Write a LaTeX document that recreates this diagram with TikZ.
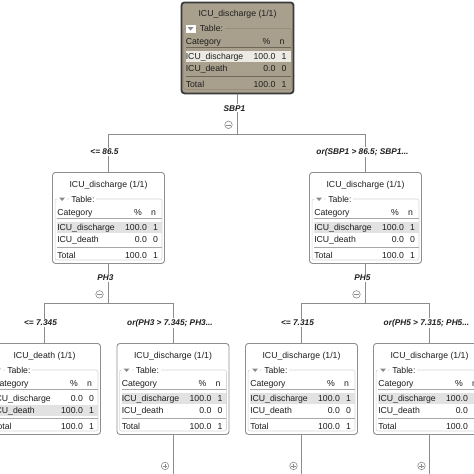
\documentclass[tikz,border=0pt]{standalone}
\usepackage{fontspec}
\setmainfont{Liberation Sans}
\usepackage{xcolor}
\usetikzlibrary{positioning,calc}

\definecolor{txt}{HTML}{1E1E1E}
\definecolor{linkgray}{HTML}{8C8C8C}
\definecolor{toggray}{HTML}{8A8A8A}
\definecolor{rootfill}{HTML}{A89F8C}
\definecolor{roothl}{HTML}{EDEAE4}
\definecolor{rootline}{HTML}{3A3A3A}
\definecolor{rootrule}{HTML}{6E6656}
\definecolor{rootframe}{HTML}{968D7A}
\definecolor{leaffill}{HTML}{FFFFFF}
\definecolor{leafhl}{HTML}{E2E2E2}
\definecolor{leafline}{HTML}{8E8E8E}
\definecolor{leafrule}{HTML}{A8A8A8}
\definecolor{leafframe}{HTML}{D6D6D6}

\begin{document}
\begin{tikzpicture}[x=1pt, y=-1pt,
        % styles for the decision tree
        every node/.style={font=\fontsize{8.7}{10}\selectfont, text=txt, inner sep=0pt},
        tabbox/.style={rounded corners=3pt, minimum width=112pt, minimum height=91pt, anchor=north},
        celltxt/.style={anchor=base west},
        numtxt/.style={anchor=base east},
        icon/.style={fill=white, minimum width=10pt, minimum height=8pt,
          path picture={\fill[toggray] ($(path picture bounding box.center)+(-3,-1.5)$) -- ++(6,0) -- ++(-3,3.5) -- cycle;}},
        link/.style={draw=linkgray, line width=0.9pt},
        varlbl/.style={font=\fontsize{8.3}{10}\selectfont\bfseries\itshape, fill=white, inner sep=1pt},
        brlbl/.style={font=\fontsize{8.3}{10}\selectfont\bfseries\itshape, fill=white, inner sep=1pt},
        toggle/.style={circle, draw=toggray, fill=white, line width=0.6pt, minimum size=7.5pt, inner sep=0pt},
        minus/.style={toggle, path picture={\draw[toggray, line width=0.6pt] ($(path picture bounding box.west)+(1.7,0)$) -- ($(path picture bounding box.east)+(-1.7,0)$);}},
        plus/.style={toggle, path picture={\draw[toggray, line width=0.6pt] ($(path picture bounding box.west)+(1.7,0)$) -- ($(path picture bounding box.east)+(-1.7,0)$);
            \draw[toggray, line width=0.6pt] ($(path picture bounding box.north)+(0,1.7)$) -- ($(path picture bounding box.south)+(0,-1.7)$);}}
      ]

      \useasboundingbox (0,0) rectangle (474,474);

      % Tree nodes with their class tables
      \foreach \nm/\cx/\ty/\kind/\lw/\ttl/\pa/\na/\pb/\nb/\hr in {
          root/237.5/1.5/root/1.8/ICU\_discharge/100.0/1/0.0/0/1,
          sbpLow/108.5/172/leaf/0.9/ICU\_discharge/100.0/1/0.0/0/1,
          sbpHigh/365.5/172/leaf/0.9/ICU\_discharge/100.0/1/0.0/0/1,
          ph3Low/44.5/343/leaf/0.9/ICU\_death/0.0/0/100.0/1/2,
          ph3High/173/343/leaf/0.9/ICU\_discharge/100.0/1/0.0/0/1,
          ph5Low/301.5/343/leaf/0.9/ICU\_discharge/100.0/1/0.0/0/1,
          ph5High/429.5/343/leaf/0.9/ICU\_discharge/100.0/1/0.0/0/1} {
        \node[tabbox, draw=\kind line, fill=\kind fill, line width=\lw pt] (\nm) at (\cx,\ty) {};
        \node[anchor=base] (\nm-title) at ($(\nm.north)+(0,15)$) {\ttl{} (1/1)};
        \draw[draw=\kind frame, line width=0.6pt, rounded corners=2pt]
          ($(\nm.north west)+(3,27)$) rectangle ($(\nm.north east)+(-3,88)$);
        \node[icon] (\nm-icon) at ($(\nm.north west)+(10,27)$) {};
        \node[anchor=base west, fill=\kind fill, inner xsep=2pt, inner ysep=1pt] (\nm-legend)
          at ($(\nm.north west)+(17,30)$) {Table:};
        \fill[fill=\kind hl] ($(\nm.north west)+(5,37.5+12*\hr)$) rectangle ($(\nm.north east)+(-3,48.5+12*\hr)$);
        \node[celltxt] (\nm-cat) at ($(\nm.north west)+(5,43)$) {Category};
        \node[numtxt] (\nm-pcthead) at ($(\nm.north west)+(90,43)$) {\%};
        \node[numtxt] (\nm-nhead) at ($(\nm.north west)+(104,43)$) {n};
        \foreach \ry in {46, 75} {
          \draw[draw=\kind rule, line width=0.8pt] ($(\nm.north west)+(5,\ry)$) -- ($(\nm.north east)+(-3,\ry)$);
        }
        \foreach \rw/\ry/\rp/\rn in {ICU\_discharge/58/\pa/\na, ICU\_death/70/\pb/\nb, Total/86/100.0/1} {
          \node[celltxt] (\nm-row\ry) at ($(\nm.north west)+(5,\ry)$) {\rw};
          \node[numtxt] (\nm-pct\ry) at ($(\nm.north west)+(95,\ry)$) {\rp};
          \node[numtxt] (\nm-n\ry) at ($(\nm.north west)+(106,\ry)$) {\rn};
        }
      }

      % Splits with their branch labels
      \foreach \up/\lo/\hi/\var/\val in {root/sbpLow/sbpHigh/SBP1/86.5,
          sbpLow/ph3Low/ph3High/PH3/7.345, sbpHigh/ph5Low/ph5High/PH5/7.315} {
        \coordinate (\up-split) at ($(\up.south)+(0,40)$);
        \draw[link] (\up.south) -- (\up-split);
        \draw[link] (\lo.north) |- (\up-split) -| (\hi.north);
        \node[varlbl] (\up-var) at ($(\up.south)+(-3,14)$) {\var};
        \node[minus] (\up-tog) at ($(\up-split)+(-9,-9.5)$) {};
        \node[brlbl] (\lo-lbl) at ($(\lo.north)+(-4,-20)$) {<= \val};
        \node[brlbl] (\hi-lbl) at ($(\hi.north)+(-3,-20)$) {or(\var{} > \val; \var...};
      }

      % Collapsed subtrees below the bottom row
      \foreach \nm in {ph3High, ph5Low, ph5High} {
        \coordinate (\nm-end) at ($(\nm.south)+(0,45)$);
        \draw[link] (\nm.south) -- (\nm-end);
        \node[plus] (\nm-tog) at ($(\nm.south)+(-8,31)$) {};
      }

    \end{tikzpicture}
\end{document}
